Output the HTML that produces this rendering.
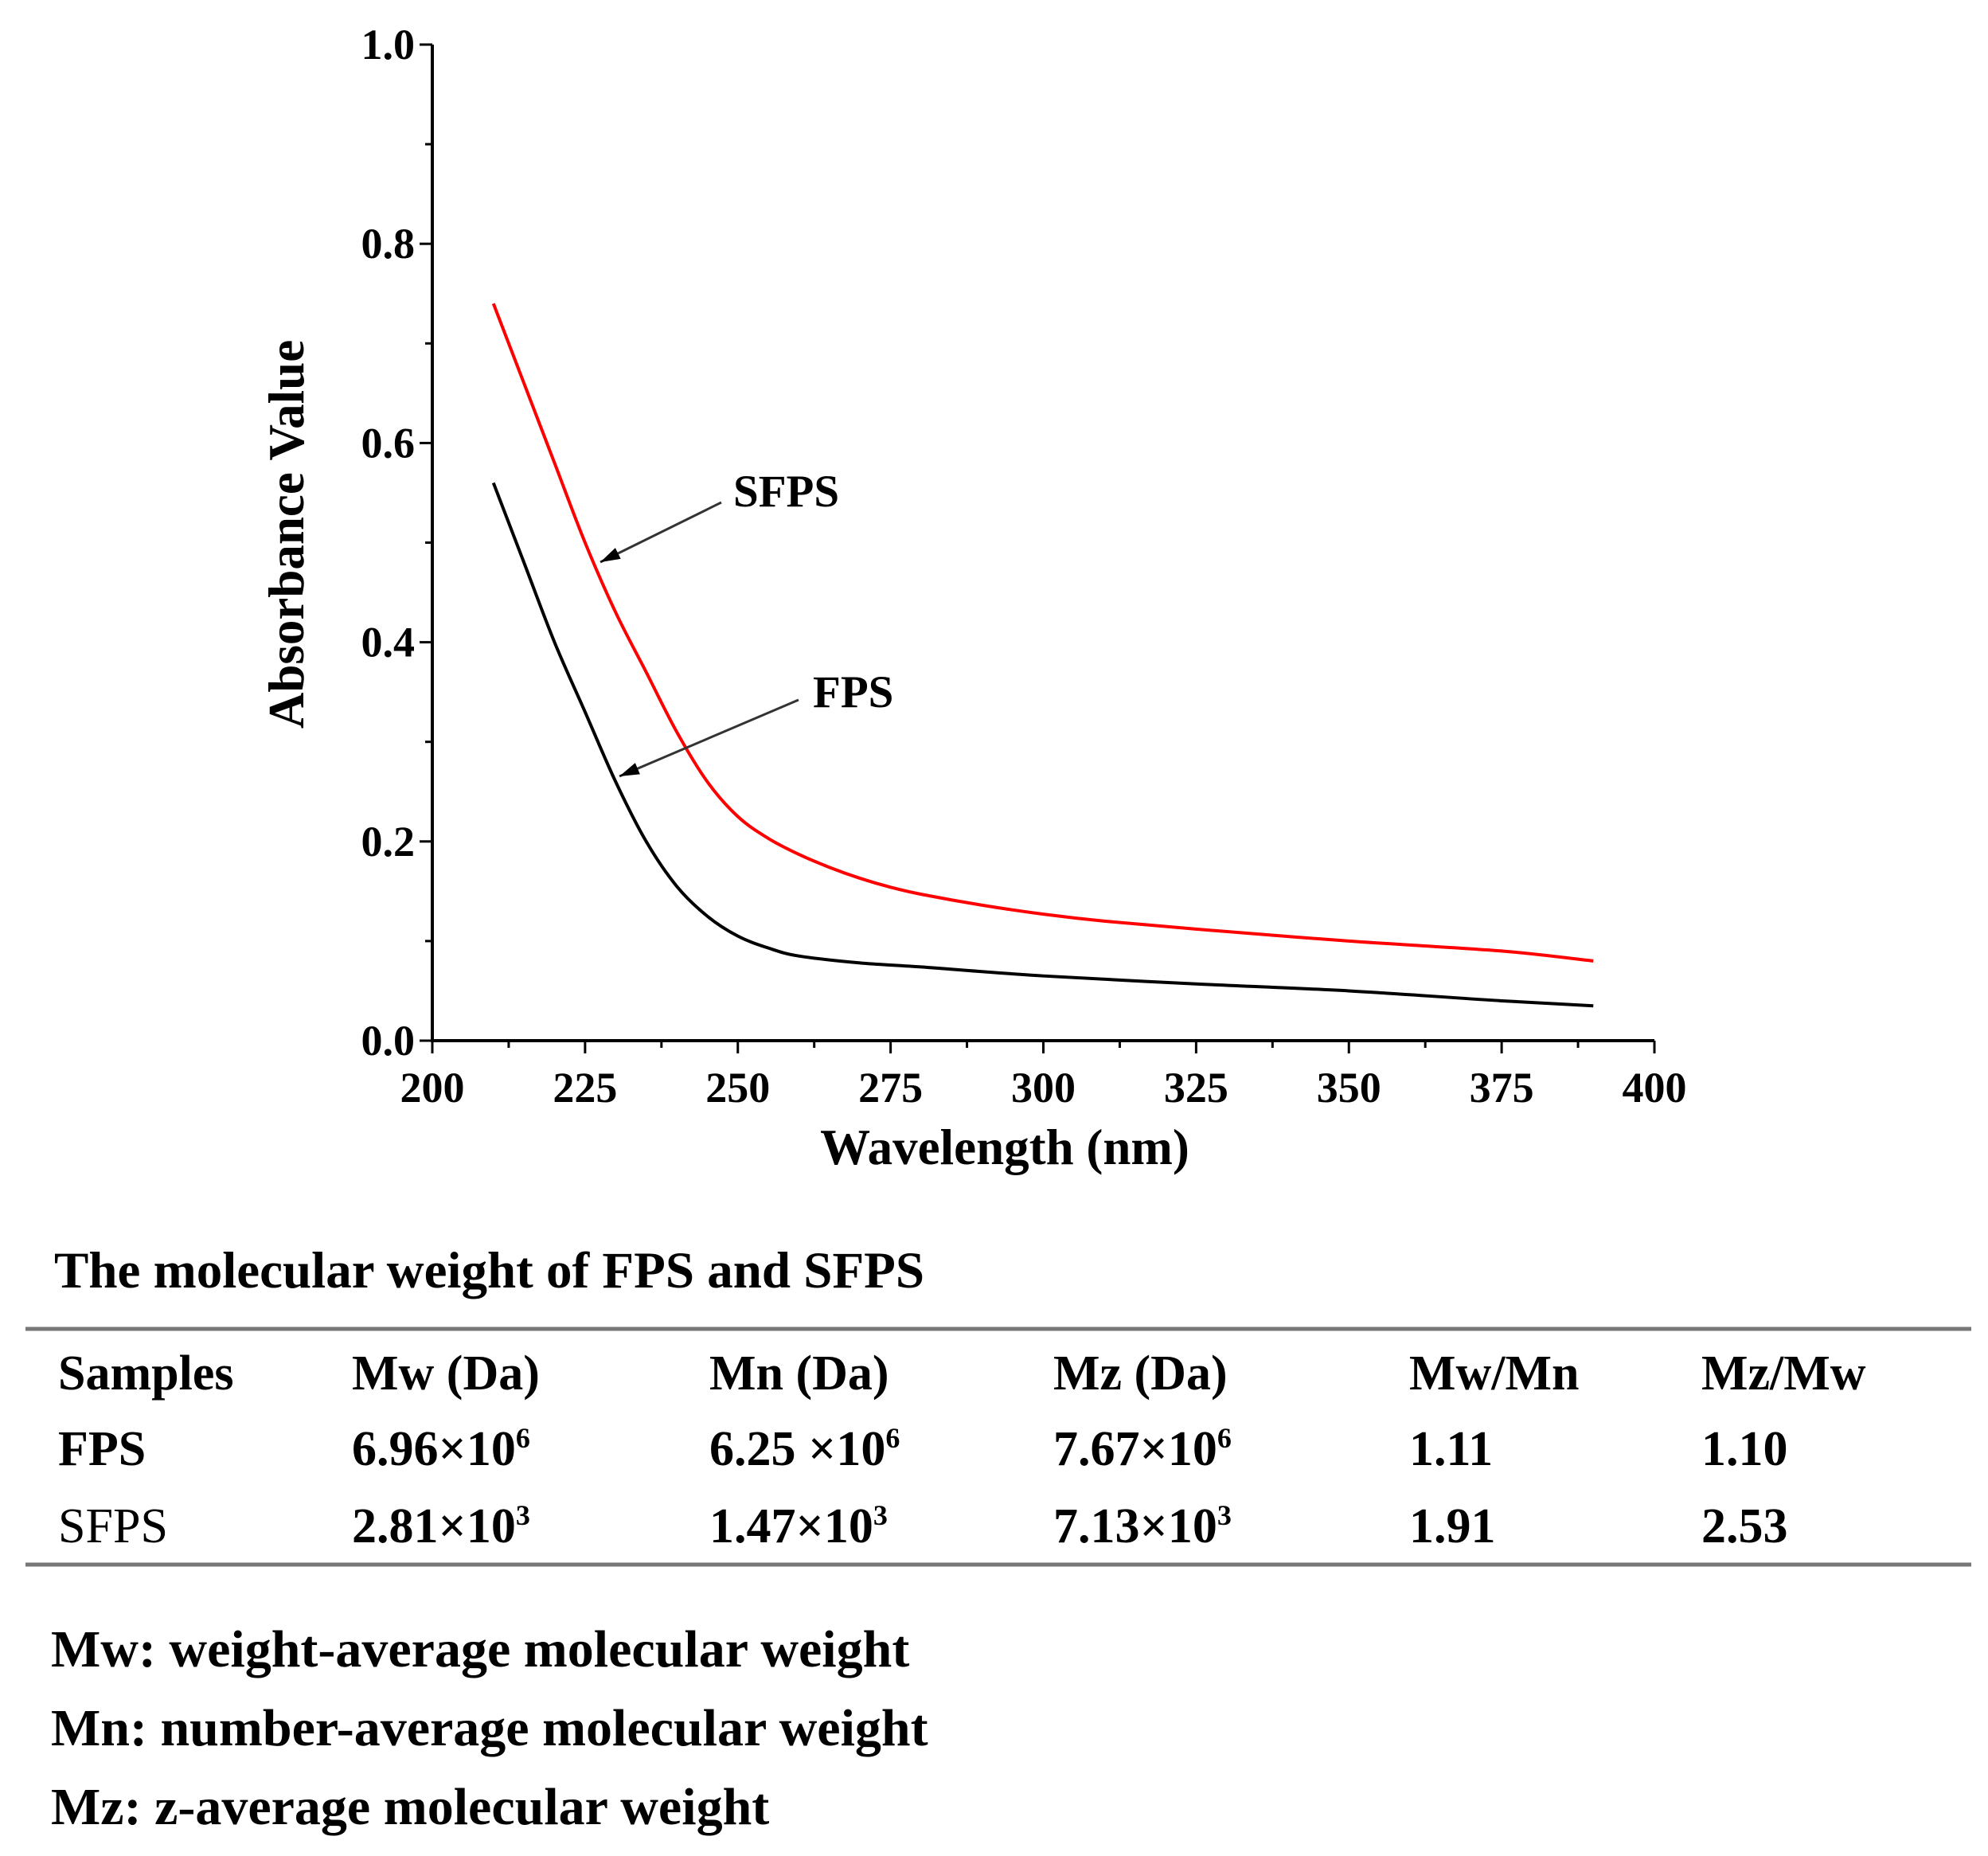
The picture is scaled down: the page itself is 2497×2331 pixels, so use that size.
<!DOCTYPE html>
<html><head><meta charset="utf-8"><style>
body{margin:0;background:#fff;}
svg text{font-family:"Liberation Serif",serif;}
</style></head><body>
<svg id="fig" width="2497" height="2326" viewBox="0 0 2497 2326" xmlns="http://www.w3.org/2000/svg">
<g id="chart"></g>
<g id="table">
<text x="68" y="1617" font-size="65" font-weight="bold">The molecular weight of FPS and SFPS</text>
<line x1="32" y1="1669" x2="2476" y2="1669" stroke="#777" stroke-width="5"/>
<line x1="32" y1="1965" x2="2476" y2="1965" stroke="#777" stroke-width="5"/>
<g font-size="62" font-weight="bold">
<text x="73" y="1745">Samples</text>
<text x="442" y="1745">Mw (Da)</text>
<text x="891" y="1745">Mn (Da)</text>
<text x="1323" y="1745">Mz (Da)</text>
<text x="1770" y="1745">Mw/Mn</text>
<text x="2137" y="1745">Mz/Mw</text>
<text x="73" y="1840">FPS</text>
<text x="442" y="1840">6.96×10<tspan font-size="36" dy="-22">6</tspan></text>
<text x="891" y="1840">6.25 ×10<tspan font-size="36" dy="-22">6</tspan></text>
<text x="1323" y="1840">7.67×10<tspan font-size="36" dy="-22">6</tspan></text>
<text x="1770" y="1840">1.11</text>
<text x="2137" y="1840">1.10</text>
<text x="442" y="1937">2.81×10<tspan font-size="36" dy="-22">3</tspan></text>
<text x="891" y="1937">1.47×10<tspan font-size="36" dy="-22">3</tspan></text>
<text x="1323" y="1937">7.13×10<tspan font-size="36" dy="-22">3</tspan></text>
<text x="1770" y="1937">1.91</text>
<text x="2137" y="1937">2.53</text>
</g>
<text x="73" y="1937" font-size="62">SFPS</text>
<g font-size="66" font-weight="bold">
<text x="64" y="2093">Mw: weight-average molecular weight</text>
<text x="64" y="2192">Mn: number-average molecular weight</text>
<text x="64" y="2291">Mz: z-average molecular weight</text>
</g>
</g>
</svg>
<script>
const xTicks=[200,225,250,275,300,325,350,375,400];
const yTicks=[0.0,0.2,0.4,0.6,0.8,1.0];
const sfpsX=[210,215,220,225,230,235,240,245,250,255,260,265,270,275,280,290,300,310,325,350,375,390];
const sfpsY=[0.74,0.66,0.58,0.50,0.43,0.37,0.31,0.26,0.225,0.203,0.187,0.174,0.163,0.154,0.147,0.136,0.127,0.12,0.112,0.10,0.09,0.08];
const fpsX=[210,215,220,225,230,235,240,245,250,255,260,270,280,300,325,350,375,390];
const fpsY=[0.56,0.48,0.40,0.33,0.26,0.20,0.155,0.125,0.105,0.093,0.085,0.078,0.074,0.065,0.057,0.05,0.04,0.035];
const NS='http://www.w3.org/2000/svg';
const g=document.getElementById('chart');
const X0=543,X1=2078,Y0=1307,Y1=56;
const sx=v=>X0+(v-200)/200*(X1-X0);
const sy=v=>Y0-v*(Y0-Y1);
function mk(t,a,p){const e=document.createElementNS(NS,t);for(const k in a)e.setAttribute(k,a[k]);(p||g).appendChild(e);return e;}
let e;
e=mk('line',{x1:X0,y1:Y0,x2:X1,y2:Y0,stroke:'#000','stroke-width':4});


e=mk('line',{x1:X0,y1:Y0+2,x2:X0,y2:Y1,stroke:'#000','stroke-width':4});


for(let v=200;v<=400;v+=12.5){const maj=(v%25===0);
 e=mk('line',{x1:sx(v),y1:Y0,x2:sx(v),y2:Y0+(maj?16:9),stroke:'#000','stroke-width':3});
 
 }
xTicks.forEach(v=>{e=mk('text',{x:sx(v),y:Y0+77,'font-size':54,'font-weight':'bold','text-anchor':'middle'});e.textContent=v;
 
 });
for(let i=0;i<=10;i++){const v=i/10;const maj=(i%2===0);
 e=mk('line',{x1:X0,y1:sy(v),x2:X0-(maj?16:9),y2:sy(v),stroke:'#000','stroke-width':3});
 
 }
yTicks.forEach(v=>{e=mk('text',{x:X0-22,y:sy(v)+18,'font-size':54,'font-weight':'bold','text-anchor':'end'});e.textContent=v.toFixed(1);
 
 });
e=mk('text',{x:1262,y:1462,'font-size':63,'font-weight':'bold','text-anchor':'middle'});e.textContent='Wavelength (nm)';


e=mk('text',{x:0,y:0,'font-size':63,'font-weight':'bold','text-anchor':'middle',transform:'translate(381,671) rotate(-90)'});e.textContent='Absorbance Value';


function path(xs,ys){let d='';for(let i=0;i<xs.length;i++){const px=sx(xs[i]),py=sy(ys[i]);
 if(i===0)d='M'+px+' '+py;else{const p0=i>1?[sx(xs[i-2]),sy(ys[i-2])]:[sx(xs[i-1]),sy(ys[i-1])];const p1=[sx(xs[i-1]),sy(ys[i-1])];const p3=i<xs.length-1?[sx(xs[i+1]),sy(ys[i+1])]:[px,py];
 d+=` C${p1[0]+(px-p0[0])/6} ${p1[1]+(py-p0[1])/6} ${px-(p3[0]-p1[0])/6} ${py-(p3[1]-p1[1])/6} ${px} ${py}`;}}return d;}
e=mk('path',{d:path(fpsX,fpsY),fill:'none',stroke:'#000','stroke-width':4});


e=mk('path',{d:path(sfpsX,sfpsY),fill:'none',stroke:'#ff0000','stroke-width':4});


function arrow(x1,y1,x2,y2,name){
 e=mk('line',{x1:x1,y1:y1,x2:x2,y2:y2,stroke:'#333','stroke-width':3});
 
 
 const a=Math.atan2(y2-y1,x2-x1),L=26,w=0.3;
 e=mk('polygon',{points:`${x2},${y2} ${x2-L*Math.cos(a-w)},${y2-L*Math.sin(a-w)} ${x2-L*Math.cos(a+w)},${y2-L*Math.sin(a+w)}`,fill:'#000'});
 
 }
arrow(906,631,754,706,'sfps-arrow');
arrow(1003,879,778,975,'fps-arrow');
e=mk('text',{x:921,y:636,'font-size':57,'font-weight':'bold'});e.textContent='SFPS';


e=mk('text',{x:1021,y:888,'font-size':57,'font-weight':'bold'});e.textContent='FPS';


</script>
</body></html>
